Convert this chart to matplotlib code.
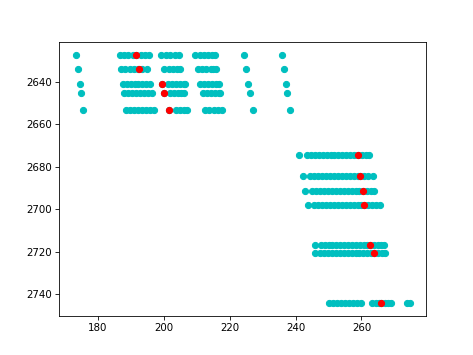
import matplotlib
matplotlib.use('Agg')
import matplotlib.pyplot as plt
import numpy as np

# row y positions of the cyan points
row_y = [2627.4, 2634.0, 2641.1, 2645.5, 2653.3,
         2674.7, 2684.5, 2691.4, 2698.2,
         2716.9, 2720.8, 2744.4]

# x positions of the cyan points, one list per row
row_x = [
    [173.3, 186.6, 187.9, 189.2, 190.5, 191.7, 193.0, 194.3, 195.4,
     199.2, 200.6, 202.0, 203.3, 204.5,
     209.6, 210.9, 212.2, 213.5, 214.7, 215.6, 224.4, 235.8],
    [173.9, 187.0, 188.3, 189.6, 190.9, 192.2, 193.5, 194.8,
     200.2, 201.5, 202.8, 204.0, 205.0,
     210.3, 211.6, 212.9, 214.2, 215.0, 215.8, 224.9, 236.5],
    [174.4, 187.5, 188.7, 189.9, 191.1, 192.3, 193.5, 194.7, 195.8,
     199.5, 201.2, 202.4, 203.6, 204.8, 206.0, 206.4,
     211.0, 212.2, 213.4, 214.6, 215.7, 216.7, 225.7, 237.1],
    [174.9, 188.0, 189.2, 190.4, 191.6, 192.8, 194.0, 195.2, 196.4,
     200.2, 201.8, 203.0, 204.2, 205.2, 206.0,
     212.0, 213.2, 214.4, 215.6, 216.8, 217.2, 226.2, 237.5],
    [175.6, 188.5, 189.7, 190.9, 192.1, 193.3, 194.5, 195.7, 196.9,
     201.6, 203.7, 204.9, 206.0, 207.1,
     212.5, 213.8, 215.1, 216.4, 217.7, 227.2, 238.4],
    [241.0, 243.4, 244.6, 245.8, 247.0, 248.2, 249.4, 250.6, 251.8,
     253.0, 254.2, 255.4, 256.6, 257.8, 259.0, 260.2, 261.3, 262.3],
    [242.3, 244.5, 245.7, 246.9, 248.1, 249.3, 250.5, 251.7, 252.9,
     254.1, 255.3, 256.5, 257.7, 258.9, 259.7, 260.9, 262.1, 263.4],
    [242.8, 245.0, 246.2, 247.4, 248.6, 249.8, 251.0, 252.2, 253.4,
     254.6, 255.8, 257.0, 258.2, 259.4, 260.4, 261.6, 262.8, 263.9],
    [243.8, 245.6, 246.8, 248.0, 249.2, 250.4, 251.6, 252.8, 254.0,
     255.2, 256.4, 257.6, 258.8, 259.9, 260.9, 262.1, 263.3, 264.5, 265.5],
    [245.9, 247.6, 248.8, 250.0, 251.2, 252.4, 253.6, 254.8, 256.0,
     257.2, 258.4, 259.6, 260.8, 261.8, 262.7, 263.9, 265.1, 266.0, 266.9],
    [246.0, 247.4, 248.6, 249.8, 251.0, 252.2, 253.4, 254.6, 255.8,
     257.0, 258.2, 259.4, 260.6, 261.8, 262.8, 263.7, 264.9, 266.1, 267.1],
    [250.2, 251.4, 252.6, 253.8, 255.0, 256.2, 257.4, 258.6, 259.8,
     263.1, 264.3, 265.3, 266.0, 267.0, 268.0, 268.9, 273.7, 274.6],
]

# red points, one per row
red_x = [191.7, 192.4, 199.5, 200.2, 201.6, 259.0, 259.7, 260.4, 260.9,
         262.7, 263.7, 266.0]
red_y = row_y

cyan_x = np.concatenate([np.array(r) for r in row_x])
cyan_y = np.concatenate([np.full(len(r), y) for r, y in zip(row_x, row_y)])

fig = plt.figure(figsize=(6.4, 4.8), dpi=74)
plt.scatter(cyan_x, cyan_y, c='c')
plt.scatter(red_x, red_y, c='r')
plt.gca().invert_yaxis()

plt.savefig('out.png', dpi=74)
